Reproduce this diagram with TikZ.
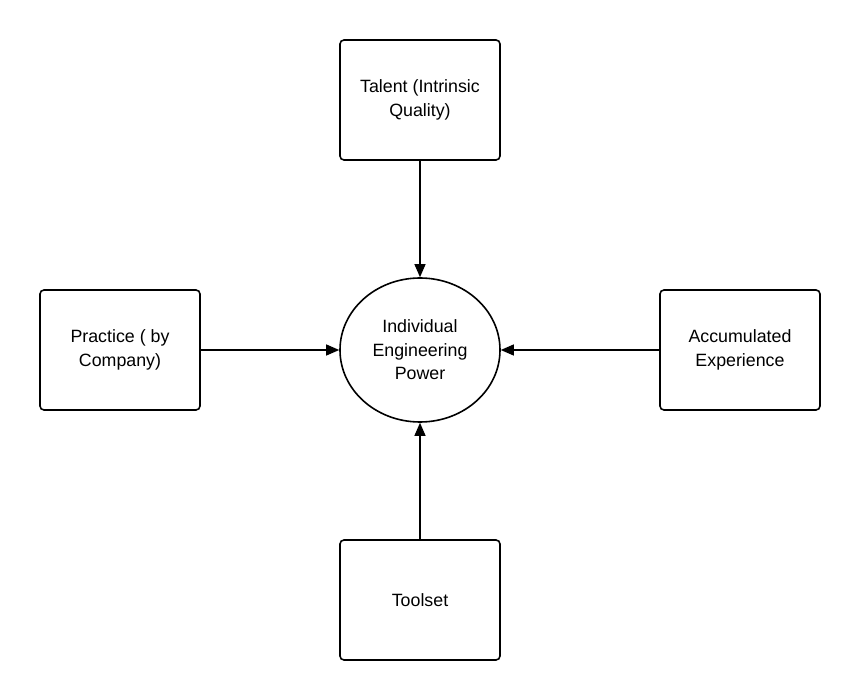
\documentclass[tikz,border=0pt]{standalone}
\usepackage{fontspec}
\setmainfont{Liberation Sans}
\usetikzlibrary{shapes.geometric, arrows.meta, positioning}
\tikzset{
	factor/.style ={rectangle, rounded corners=4pt, draw=black, line width=1.6pt, minimum width=160pt, minimum height=120pt, align=center, text centered},
	core/.style   ={ellipse, draw=black, line width=1.6pt, minimum width=160pt, minimum height=144pt, inner sep=0pt, align=center, text centered},
	feed/.style   ={-{Triangle[length=13pt, width=11pt]}, line width=1.2pt},
}
\begin{document}
\begin{tikzpicture}[x=1pt, y=-1pt, font=\fontsize{17.8}{23.5}\selectfont]
	\useasboundingbox (0,0) rectangle (860,700);
	\node[core] (power) at (420,350) {Individual\\ Engineering\\ Power};
	\node[factor] (talent) at (420,100) {Talent (Intrinsic\\ Quality)};
	\node[factor] (practice) at (120,350) {Practice ( by\\ Company)};
	\node[factor] (experience) at (740,350) {Accumulated\\ Experience};
	\node[factor] (toolset) at (420,600) {Toolset};
	% connectors
	\draw[feed] (talent) -- (power);
	\draw[feed] (practice) -- (power);
	\draw[feed] (experience) -- (power);
	\draw[feed] (toolset) -- (power);
\end{tikzpicture}
\end{document}
